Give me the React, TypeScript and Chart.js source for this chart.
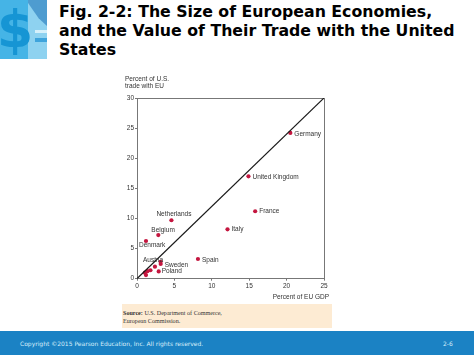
import React, { useEffect, useRef } from "react";
import { Chart, registerables } from "chart.js";

Chart.register(...registerables);

const countries = ["Germany", "United Kingdom", "France", "Italy", "Netherlands", "Belgium", "Denmark", "Spain", "Sweden", "Austria", "Poland", "", "", "", "", ""];
const gdpShare = [20.5, 14.9, 15.8, 12.1, 4.6, 2.85, 1.2, 8.15, 3.17, 2.4, 2.9, 3.15, 1.8, 1.4, 1.05, 1.2];
const tradeShare = [24.2, 17.0, 11.2, 8.2, 9.7, 7.25, 6.26, 3.27, 2.44, 2.0, 1.2, 2.8, 1.4, 1.25, 1.0, 0.6];
const xTicks = [0, 5, 10, 15, 20, 25];
const yTicks = [0, 5, 10, 15, 20, 25, 30];
const diagonalX = [0, 25];
const diagonalY = [0, 30];

const labelPlacement: Record<string, [number, number, CanvasTextAlign]> = {
  Germany: [4, 1, "left"],
  "United Kingdom": [4, 1, "left"],
  France: [4, 0, "left"],
  Italy: [4, 0, "left"],
  Netherlands: [-15, -6, "left"],
  Belgium: [-7, -5, "left"],
  Denmark: [-7, 4, "left"],
  Spain: [4, 1, "left"],
  Sweden: [4, 1, "left"],
  Austria: [-12, -6, "left"],
  Poland: [3, 0, "left"],
};

const pointLabels = {
  id: "pointLabels",
  afterDatasetsDraw(chart: any) {
    const { ctx, scales } = chart;
    ctx.save();
    ctx.font = '6.5px "Liberation Sans"';
    ctx.fillStyle = "#333";
    ctx.textBaseline = "middle";
    countries.forEach((name, i) => {
      const p = labelPlacement[name];
      if (!p) return;
      ctx.textAlign = p[2];
      ctx.fillText(name, scales.x.getPixelForValue(gdpShare[i]) + p[0], scales.y.getPixelForValue(tradeShare[i]) + p[1]);
    });
    ctx.textAlign = "left";
    ctx.fillText("Percent of U.S.", 125, 79.5);
    ctx.fillText("trade with EU", 125, 86.5);
    ctx.textAlign = "right";
    ctx.fillText("Percent of EU GDP", 329, 297);
    ctx.restore();
  },
};

export default function App() {
  const ref = useRef<HTMLCanvasElement>(null);
  useEffect(() => {
    const chart = new Chart(ref.current!, {
      type: "scatter",
      data: {
        datasets: [
          {
            type: "line",
            data: diagonalX.map((x, i) => ({ x, y: diagonalY[i] })),
            borderColor: "#1a1a1a",
            borderWidth: 1.2,
            pointRadius: 0,
          },
          {
            data: gdpShare.map((x, i) => ({ x, y: tradeShare[i] })),
            backgroundColor: "#c4163f",
            borderWidth: 0,
            pointRadius: 2.1,
          },
        ],
      } as any,
      plugins: [pointLabels],
      options: {
        animation: false,
        responsive: false,
        layout: { padding: { top: 98, right: 150, left: 0, bottom: 0 } },
        plugins: { legend: { display: false }, tooltip: { enabled: false } },
        scales: {
          x: {
            type: "linear",
            min: 0,
            max: 25,
            afterFit: (s: any) => { s.height = 76.3; },
            afterBuildTicks: (s: any) => { s.ticks = xTicks.map((value) => ({ value })); },
            ticks: { font: { family: "Liberation Sans", size: 6.5 }, color: "#333", padding: 2 },
            border: { color: "#777", width: 1 },
            grid: { drawOnChartArea: false, tickLength: 2, color: "#777" },
          },
          y: {
            type: "linear",
            min: 0,
            max: 30,
            afterFit: (s: any) => { s.width = 137; },
            afterBuildTicks: (s: any) => { s.ticks = yTicks.map((value) => ({ value })); },
            ticks: { font: { family: "Liberation Sans", size: 6.5 }, color: "#333", padding: 1 },
            border: { color: "#777", width: 1 },
            grid: { drawOnChartArea: false, tickLength: 2, color: "#777" },
          },
          x2: {
            type: "linear", position: "top", min: 0, max: 25,
            afterFit: (s: any) => { s.height = 0; },
            ticks: { display: false },
            border: { color: "#777", width: 1 },
            grid: { display: false },
          },
          y2: {
            type: "linear", position: "right", min: 0, max: 30,
            afterFit: (s: any) => { s.width = 0; },
            ticks: { display: false },
            border: { color: "#777", width: 1 },
            grid: { display: false },
          },
        },
      } as any,
    });
    return () => chart.destroy();
  }, []);

  return (
    <div style={{ position: "fixed", left: 0, top: 0, width: 474, height: 355, background: "#fff", overflow: "hidden" }}>
      <div style={{ position: "absolute", left: 0, top: 0, width: 47, height: 59, background: "#8ed2f0", overflow: "hidden" }}>
        <div style={{ position: "absolute", left: 26, top: 0, width: 21, height: 26, background: "#3f8fc8", clipPath: "polygon(0 0, 100% 0, 100% 100%, 60% 70%)", opacity: 0.8 }} />
        <div style={{ position: "absolute", left: 0, top: 0, width: 28, height: 59, background: "#45b4e6" }} />
        <div style={{ position: "absolute", left: -3, top: -3, fontFamily: "DejaVu Sans", fontWeight: 700, fontSize: 52, lineHeight: "64px", color: "#1695d4" }}>$</div>
        <div style={{ position: "absolute", left: 35, top: 30, width: 12, height: 3, background: "#d5f0fb" }} />
        <div style={{ position: "absolute", left: 35, top: 38, width: 12, height: 4, background: "#3fa4dc" }} />
      </div>
      <div style={{ position: "absolute", left: 122, top: 304, width: 210, height: 24, background: "#fdebd3" }} />
      <div style={{ position: "absolute", left: 123, top: 310, fontFamily: "Liberation Serif", fontSize: 6.1, lineHeight: "7.7px", color: "#333", whiteSpace: "pre" }}>
        <b>Source:</b> U.S. Department of Commerce,{"\n"}European Commission.
      </div>
      <div style={{ position: "absolute", left: 59, top: 2, width: 414, fontFamily: "DejaVu Sans", fontWeight: 700, fontSize: 15.75, lineHeight: "19px", color: "#000" }}>
        Fig. 2-2: The Size of European Economies,<br />and the Value of Their Trade with the United<br />States
      </div>
      <canvas ref={ref} width={474} height={355} style={{ position: "absolute", left: 0, top: 0, display: "block" }} />
      <div style={{ position: "absolute", left: 0, top: 331, width: 474, height: 24, background: "#1b82c4" }}>
        <div style={{ position: "absolute", left: 20, top: 7.5, fontFamily: "DejaVu Sans", fontSize: 6, lineHeight: "9px", color: "#d8eefa", whiteSpace: "pre" }}>Copyright ©2015 Pearson Education, Inc. All rights reserved.</div>
        <div style={{ position: "absolute", left: 443, top: 7.5, fontFamily: "DejaVu Sans", fontSize: 6, lineHeight: "9px", color: "#d8eefa" }}>2-6</div>
      </div>
    </div>
  );
}
